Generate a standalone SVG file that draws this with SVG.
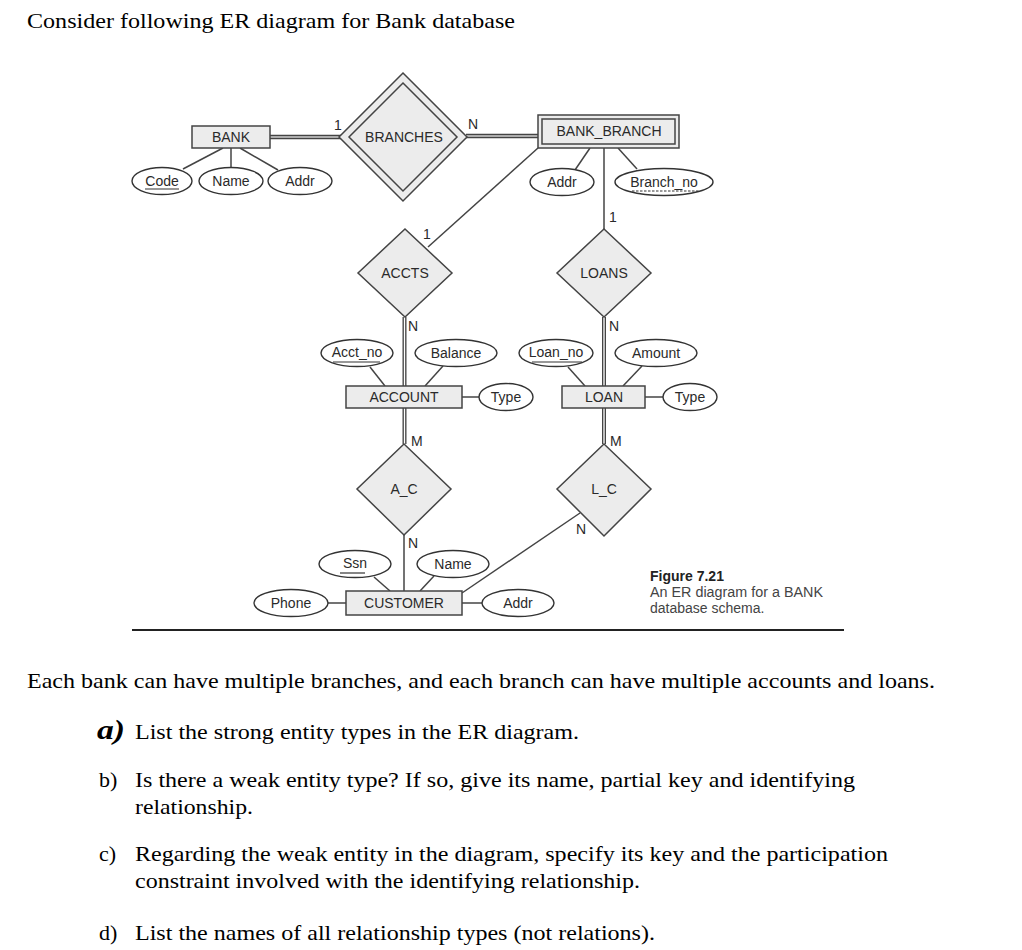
<svg xmlns="http://www.w3.org/2000/svg" width="1022" height="950" viewBox="0 0 1022 950">
<style>
.ent{fill:#ececec;stroke:#444;stroke-width:1.5}
.rel{fill:#ececec;stroke:#444;stroke-width:1.5}
.att{fill:#fff;stroke:#333;stroke-width:1.4}
.ln{stroke:#444;stroke-width:1.5;fill:none}
.dblo{stroke:#444;stroke-width:4.5;fill:none}
.dbli{stroke:#d0d0d0;stroke-width:1.6;fill:none}
.t{font-family:"Liberation Sans",Arial,sans-serif;font-size:14px;fill:#2a2a2a;text-anchor:middle}
.c{font-family:"Liberation Sans",Arial,sans-serif;font-size:14px;fill:#2a2a2a}
.q{font-family:"Liberation Serif","Times New Roman",serif;font-size:22px;fill:#000}
.cap{font-family:"Liberation Sans",Arial,sans-serif;font-size:14px;fill:#444}
</style>
<rect width="1022" height="950" fill="#fff"/>
<text class="q" x="27" y="28" textLength="488" lengthAdjust="spacingAndGlyphs">Consider following ER diagram for Bank database</text>

<g id="connectors">
<line class="dblo" x1="270" y1="137" x2="341" y2="137"/>
<line class="dbli" x1="270" y1="137" x2="341" y2="137"/>
<line class="dblo" x1="466" y1="136" x2="538" y2="136"/>
<line class="dbli" x1="466" y1="136" x2="538" y2="136"/>
<line class="ln" x1="223" y1="148" x2="183" y2="169"/>
<line class="ln" x1="231" y1="148" x2="231" y2="167"/>
<line class="ln" x1="240" y1="148" x2="278" y2="170"/>
<line class="ln" x1="538" y1="148" x2="428" y2="247"/>
<line class="ln" x1="590" y1="148" x2="575" y2="170"/>
<line class="ln" x1="618" y1="148" x2="637" y2="169"/>
<line class="ln" x1="604" y1="148" x2="604" y2="229"/>
<line class="dblo" x1="404.5" y1="317" x2="404.5" y2="386" style="stroke-width:4"/>
<line class="dbli" x1="404.5" y1="317" x2="404.5" y2="386" style="stroke:#fff;stroke-width:1.3"/>
<line class="dblo" x1="604" y1="317" x2="604" y2="386" style="stroke-width:4"/>
<line class="dbli" x1="604" y1="317" x2="604" y2="386" style="stroke:#fff;stroke-width:1.3"/>
<line class="ln" x1="370" y1="367" x2="385" y2="386"/>
<line class="ln" x1="443" y1="366" x2="425" y2="386"/>
<line class="ln" x1="462" y1="397" x2="479" y2="397"/>
<line class="ln" x1="568" y1="367" x2="585" y2="386"/>
<line class="ln" x1="642" y1="366" x2="623" y2="386"/>
<line class="ln" x1="645" y1="397" x2="663" y2="397"/>
<line class="dblo" x1="404.5" y1="408" x2="404.5" y2="444" style="stroke-width:4"/>
<line class="dbli" x1="404.5" y1="408" x2="404.5" y2="444" style="stroke:#fff;stroke-width:1.3"/>
<line class="dblo" x1="604" y1="408" x2="604" y2="444" style="stroke-width:4"/>
<line class="dbli" x1="604" y1="408" x2="604" y2="444" style="stroke:#fff;stroke-width:1.3"/>
<line class="ln" x1="404" y1="535" x2="404" y2="591"/>
<line class="ln" x1="374" y1="577" x2="390" y2="591"/>
<line class="ln" x1="434" y1="576" x2="420" y2="591"/>
<line class="ln" x1="328" y1="603" x2="346" y2="603"/>
<line class="ln" x1="462" y1="603" x2="482" y2="603"/>
<line class="ln" x1="462" y1="593" x2="580" y2="513"/>
</g>

<g id="labels">
<text class="c" x="334" y="130">1</text>
<text class="c" x="468" y="129">N</text>
<text class="c" x="423" y="239">1</text>
<text class="c" x="609" y="222">1</text>
<text class="c" x="408" y="331">N</text>
<text class="c" x="609" y="331">N</text>
<text class="c" x="411" y="446">M</text>
<text class="c" x="610" y="446">M</text>
<text class="c" x="408" y="548">N</text>
<text class="c" x="576" y="534">N</text>
</g>

<g id="bank">
<rect class="ent" x="192" y="126" width="78" height="22"/>
<text class="t" x="231" y="142">BANK</text>
</g>
<g id="bank_code">
<ellipse class="att" cx="162" cy="181" rx="30" ry="13.5"/>
<text class="t" x="162" y="186">Code</text>
<line x1="145" y1="189" x2="179" y2="189" stroke="#333" stroke-width="1.2"/>
</g>
<g id="bank_name">
<ellipse class="att" cx="231" cy="181" rx="32" ry="13.5"/>
<text class="t" x="231" y="186">Name</text>
</g>
<g id="bank_addr">
<ellipse class="att" cx="300" cy="181" rx="32" ry="13.5"/>
<text class="t" x="300" y="186">Addr</text>
</g>

<g id="branches">
<polygon class="rel" points="403,73 467,137 403,201 339,137"/>
<polygon class="rel" points="403,83 457,137 403,191 349,137"/>
<text class="t" x="404" y="142">BRANCHES</text>
</g>

<g id="bank_branch">
<rect class="ent" x="538" y="115" width="141" height="33"/>
<rect class="ent" x="542" y="119" width="133" height="25"/>
<text class="t" x="609" y="136">BANK_BRANCH</text>
</g>
<g id="bb_addr">
<ellipse class="att" cx="562" cy="182" rx="32" ry="13.5"/>
<text class="t" x="562" y="187">Addr</text>
</g>
<g id="bb_branch_no">
<ellipse class="att" cx="664" cy="182" rx="49" ry="13.5"/>
<text class="t" x="664" y="187">Branch_no</text>
<line x1="632" y1="191" x2="699" y2="191" stroke="#333" stroke-width="1.2" stroke-dasharray="2.5,1.5"/>
</g>

<g id="accts">
<polygon class="rel" points="405,229 452,273 405,317 358,273"/>
<text class="t" x="405" y="278">ACCTS</text>
</g>
<g id="loans">
<polygon class="rel" points="604,229 651,273 604,317 557,273"/>
<text class="t" x="604" y="278">LOANS</text>
</g>

<g id="acct_no">
<ellipse class="att" cx="357" cy="353" rx="36" ry="13.5"/>
<text class="t" x="357" y="357">Acct_no</text>
<line x1="333" y1="362" x2="380" y2="362" stroke="#333" stroke-width="1.2"/>
</g>
<g id="balance">
<ellipse class="att" cx="456" cy="353" rx="41" ry="13.5"/>
<text class="t" x="456" y="358">Balance</text>
</g>
<g id="account">
<rect class="ent" x="346" y="386" width="116" height="22"/>
<text class="t" x="404" y="402">ACCOUNT</text>
</g>
<g id="acc_type">
<ellipse class="att" cx="506" cy="397" rx="27" ry="13.5"/>
<text class="t" x="506" y="402">Type</text>
</g>

<g id="loan_no">
<ellipse class="att" cx="556" cy="353" rx="37" ry="13.5"/>
<text class="t" x="556" y="357">Loan_no</text>
<line x1="532" y1="362" x2="582" y2="362" stroke="#333" stroke-width="1.2"/>
</g>
<g id="amount">
<ellipse class="att" cx="656" cy="353" rx="41" ry="13.5"/>
<text class="t" x="656" y="358">Amount</text>
</g>
<g id="loan">
<rect class="ent" x="562" y="386" width="83" height="22"/>
<text class="t" x="604" y="402">LOAN</text>
</g>
<g id="loan_type">
<ellipse class="att" cx="690" cy="397" rx="27" ry="13.5"/>
<text class="t" x="690" y="402">Type</text>
</g>

<g id="a_c">
<polygon class="rel" points="404,444 451,489 404,535 357,489"/>
<text class="t" x="404" y="494">A_C</text>
</g>
<g id="l_c">
<polygon class="rel" points="604,444 651,489 604,536 557,489"/>
<text class="t" x="604" y="494">L_C</text>
</g>

<g id="ssn">
<ellipse class="att" cx="355" cy="564" rx="36" ry="13.5"/>
<text class="t" x="355" y="568">Ssn</text>
<line x1="340" y1="573" x2="365" y2="573" stroke="#333" stroke-width="1.2"/>
</g>
<g id="cust_name">
<ellipse class="att" cx="453" cy="564" rx="36" ry="13.5"/>
<text class="t" x="453" y="569">Name</text>
</g>
<g id="phone">
<ellipse class="att" cx="291" cy="603" rx="37" ry="13.5"/>
<text class="t" x="291" y="608">Phone</text>
</g>
<g id="customer">
<rect class="ent" x="346" y="591" width="116" height="24"/>
<text class="t" x="404" y="608">CUSTOMER</text>
</g>
<g id="cust_addr">
<ellipse class="att" cx="518" cy="603" rx="36" ry="13.5"/>
<text class="t" x="518" y="608">Addr</text>
</g>

<g id="caption">
<text class="cap" x="650" y="581" style="font-weight:bold;fill:#222">Figure 7.21</text>
<text class="cap" x="650" y="597" textLength="173" lengthAdjust="spacingAndGlyphs">An ER diagram for a BANK</text>
<text class="cap" x="650" y="613">database schema.</text>
</g>
<line x1="132" y1="630" x2="844" y2="630" stroke="#222" stroke-width="2"/>

<g id="questions">
<text class="q" x="27" y="688" textLength="908" lengthAdjust="spacingAndGlyphs">Each bank can have multiple branches, and each branch can have multiple accounts and loans.</text>
<text class="q" x="97" y="739" style="font-weight:bold;font-style:italic;font-size:28px" textLength="28" lengthAdjust="spacingAndGlyphs">a)</text>
<text class="q" x="135" y="739" textLength="444" lengthAdjust="spacingAndGlyphs">List the strong entity types in the ER diagram.</text>
<text class="q" x="99" y="787">b)</text>
<text class="q" x="135" y="787" textLength="720" lengthAdjust="spacingAndGlyphs">Is there a weak entity type? If so, give its name, partial key and identifying</text>
<text class="q" x="135" y="814" textLength="118" lengthAdjust="spacingAndGlyphs">relationship.</text>
<text class="q" x="99" y="861">c)</text>
<text class="q" x="135" y="861" textLength="753" lengthAdjust="spacingAndGlyphs">Regarding the weak entity in the diagram, specify its key and the participation</text>
<text class="q" x="135" y="888" textLength="505" lengthAdjust="spacingAndGlyphs">constraint involved with the identifying relationship.</text>
<text class="q" x="99" y="940">d)</text>
<text class="q" x="135" y="940" textLength="520" lengthAdjust="spacingAndGlyphs">List the names of all relationship types (not relations).</text>
</g>
</svg>
